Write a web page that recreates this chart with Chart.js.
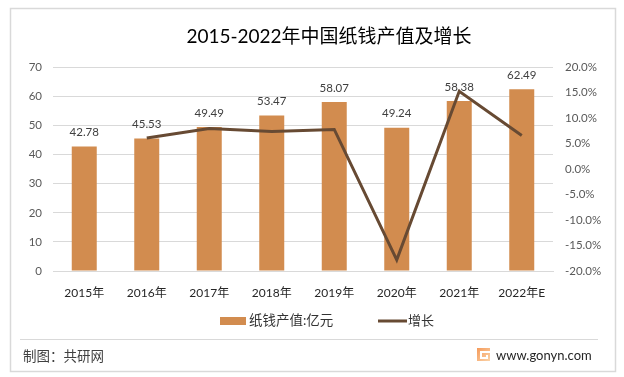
<!DOCTYPE html>
<html>
<head>
<meta charset="utf-8">
<style>
  html, body { margin: 0; padding: 0; background: #fff; }
  #wrap { position: relative; width: 624px; height: 377px; }
</style>
<script src="https://cdn.jsdelivr.net/npm/chart.js@4"></script>
</head>
<body>
<div id="wrap"><canvas id="chart"></canvas></div>
<script>
const years = ['2015年', '2016年', '2017年', '2018年', '2019年', '2020年', '2021年', '2022年E'];
const output = [42.78, 45.53, 49.49, 53.47, 58.07, 49.24, 58.38, 62.49];
const growth = [null, 6.1, 8.0, 7.4, 7.8, -17.8, 15.3, 6.6];
const titleText = '2015-2022年中国纸钱产值及增长';
const barName = '纸钱产值:亿元';
const lineName = '增长';
const sourceText = '制图：共研网';
const siteText = 'www.gonyn.com';

const FONT = 'Lato, "Noto Sans CJK SC", sans-serif';
const BAR = '#d28c4f';
const LINE = '#674a33';

// value labels go under the line, so draw them just before the line dataset
const barLabels = {
    id: 'barLabels',
    beforeDatasetDraw(chart, args) {
        if (args.index !== 1) return;
        const ctx = chart.ctx;
        ctx.save();
        ctx.font = '11.5px ' + FONT;
        ctx.fillStyle = '#404040';
        ctx.textAlign = 'center';
        ctx.textBaseline = 'middle';
        chart.getDatasetMeta(0).data.forEach((bar, i) => {
            ctx.fillText(output[i].toFixed(2), bar.x, bar.y - 14);
        });
        ctx.restore();
    }
};

// outer frame, legend, footer rule, source text and logo
const frame = {
    id: 'frame',
    afterLayout(chart) {
        // the title sits right of the canvas centre in the original
        chart.titleBlock.left += 34;
    },
    beforeDraw(chart) {
        const ctx = chart.ctx;
        ctx.save();
        ctx.strokeStyle = '#d9d9d9';
        ctx.lineWidth = 1.5;
        ctx.strokeRect(10.5, 8.5, 605, 363);
        ctx.lineWidth = 1;
        ctx.beginPath();
        ctx.moveTo(20, 339.5);
        ctx.lineTo(598, 339.5);
        ctx.stroke();
        ctx.restore();
    },
    afterDraw(chart) {
        const ctx = chart.ctx;
        ctx.save();
        ctx.textBaseline = 'middle';

        ctx.fillStyle = BAR;
        ctx.fillRect(220, 317, 26, 8);
        ctx.strokeStyle = LINE;
        ctx.lineWidth = 3;
        ctx.beginPath();
        ctx.moveTo(378, 321);
        ctx.lineTo(407, 321);
        ctx.stroke();
        ctx.fillStyle = '#333';
        ctx.font = '13.5px ' + FONT;
        ctx.fillText(barName, 249, 321);
        ctx.font = '13px ' + FONT;
        ctx.fillText(lineName, 408, 321);

        ctx.fillStyle = '#404040';
        ctx.font = '13.5px ' + FONT;
        ctx.fillText(sourceText, 23, 357);
        ctx.fillStyle = '#262626';
        ctx.font = '13px ' + FONT;
        ctx.fillText(siteText, 496, 356);

        const grad = ctx.createLinearGradient(477, 348, 490, 361);
        grad.addColorStop(0, '#f59a5a');
        grad.addColorStop(1, '#fbd3a8');
        ctx.fillStyle = grad;
        ctx.fillRect(477, 348, 13, 13);
        ctx.strokeStyle = '#fff';
        ctx.lineWidth = 2;
        ctx.beginPath();
        ctx.moveTo(490, 352);
        ctx.lineTo(481, 352);
        ctx.lineTo(481, 358);
        ctx.lineTo(487, 358);
        ctx.lineTo(487, 355);
        ctx.stroke();
        ctx.restore();
    }
};

new Chart(document.getElementById('chart'), {
    data: {
        labels: years,
        datasets: [
            {
                type: 'bar',
                label: barName,
                data: output,
                backgroundColor: BAR,
                barPercentage: 0.4,
                categoryPercentage: 1,
                yAxisID: 'y',
                order: 1
            },
            {
                type: 'line',
                label: lineName,
                data: growth,
                borderColor: LINE,
                borderWidth: 3,
                pointRadius: 0,
                tension: 0,
                yAxisID: 'y2',
                order: 0
            }
        ]
    },
    options: {
        responsive: true,
        maintainAspectRatio: false,
        animation: false,
        layout: { padding: { bottom: 70 } },
        plugins: {
            title: {
                display: true,
                text: titleText,
                color: '#000',
                font: { family: FONT, size: 19, weight: 'normal' },
                padding: { top: 25, bottom: 19.5 }
            },
            legend: { display: false },
            tooltip: { enabled: false }
        },
        scales: {
            x: {
                grid: { display: false },
                border: { color: '#d9d9d9' },
                afterFit(scale) { scale.height = 36; },
                ticks: { color: '#262626', font: { family: FONT, size: 12 }, padding: 7, maxRotation: 0, autoSkip: false }
            },
            y: {
                min: 0,
                max: 70,
                afterFit(scale) { scale.width = 53; },
                grid: { color: '#d9d9d9', drawTicks: false },
                border: { display: false },
                ticks: { stepSize: 10, color: '#595959', font: { family: FONT, size: 11.5 }, padding: 11 }
            },
            y2: {
                position: 'right',
                min: -20,
                max: 20,
                afterFit(scale) { scale.width = 71; },
                grid: { display: false, drawTicks: false },
                border: { display: false },
                ticks: {
                    stepSize: 5,
                    color: '#595959',
                    font: { family: FONT, size: 11.5 },
                    padding: 12,
                    callback: v => v.toFixed(1) + '%'
                }
            }
        }
    },
    plugins: [frame, barLabels]
});
</script>
</body>
</html>
